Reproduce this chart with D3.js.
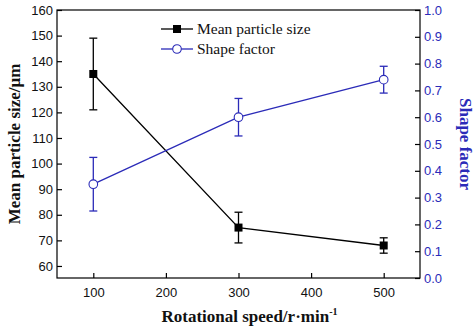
<!DOCTYPE html>
<html>
<head>
<meta charset="utf-8">
<script src="https://cdn.jsdelivr.net/npm/d3@7"></script>
<style>
  body { margin: 0; background: #fff; }
  svg { display: block; }
</style>
</head>
<body>
<svg id="chart"></svg>
<script>
// Data
const speeds = [100, 300, 500];
const sizeMean = [135, 75, 68];
const sizeErr = [14, 6, 3];
const shapeMean = [0.35, 0.60, 0.74];
const shapeErr = [0.10, 0.07, 0.05];
const xTicks = [100, 200, 300, 400, 500];
const leftTicks = [60, 70, 80, 90, 100, 110, 120, 130, 140, 150, 160];
const rightTicks = [0, 0.1, 0.2, 0.3, 0.4, 0.5, 0.6, 0.7, 0.8, 0.9, 1.0];

const width = 474;
const height = 330;
const margin = { top: 10, right: 54, bottom: 52, left: 57 };
const blue = "#2b2bb8";

const svg = d3.select("#chart").attr("width", width).attr("height", height);

const x = d3.scaleLinear().domain([50, 550]).range([margin.left, width - margin.right]);
const yL = d3.scaleLinear().domain([55.3, 160]).range([height - margin.bottom, margin.top]);
const yR = d3.scaleLinear().domain([0, 1]).range([height - margin.bottom, margin.top]);

// Frame
svg.append("rect")
  .attr("x", margin.left).attr("y", margin.top)
  .attr("width", width - margin.left - margin.right)
  .attr("height", height - margin.top - margin.bottom)
  .attr("fill", "none").attr("stroke", "#000").attr("stroke-width", 1.2);

// Axes (ticks pointing inward)
const tickFont = "'Liberation Sans', Arial, sans-serif";

const gx = svg.append("g")
  .attr("transform", `translate(0,${height - margin.bottom})`)
  .call(d3.axisBottom(x).tickValues(xTicks).tickSize(-5).tickPadding(10).tickFormat(d3.format("d")));

const gl = svg.append("g")
  .attr("transform", `translate(${margin.left},0)`)
  .call(d3.axisLeft(yL).tickValues(leftTicks).tickSize(-5).tickPadding(4).tickFormat(d3.format("d")));

const gr = svg.append("g")
  .attr("transform", `translate(${width - margin.right},0)`)
  .call(d3.axisRight(yR).tickValues(rightTicks).tickSize(-5).tickPadding(4).tickFormat(d3.format(".1f")));

[gx, gl, gr].forEach(g => {
  g.select(".domain").remove();
  g.selectAll("text").attr("font-family", tickFont).attr("font-size", 13);
  g.selectAll("line").attr("stroke", "#000").attr("stroke-width", 1.2);
});
gx.selectAll("text").attr("fill", "#111");
gl.selectAll("text").attr("fill", "#111");
gr.selectAll("text").attr("fill", blue);

// Axis titles
const titleFont = "'Liberation Serif', 'Times New Roman', serif";

const xTitle = svg.append("text")
  .attr("x", (margin.left + width - margin.right) / 2 + 11)
  .attr("y", 322)
  .attr("text-anchor", "middle")
  .attr("font-family", titleFont).attr("font-weight", "bold").attr("font-size", 17)
  .attr("fill", "#111");
xTitle.append("tspan").text("Rotational speed/r·min");
xTitle.append("tspan").attr("dy", -7).attr("font-size", 10).text("-1");

svg.append("text")
  .attr("transform", `translate(20,${(margin.top + height - margin.bottom) / 2}) rotate(-90)`)
  .attr("text-anchor", "middle")
  .attr("font-family", titleFont).attr("font-weight", "bold").attr("font-size", 17)
  .attr("fill", "#111")
  .text("Mean particle size/μm");

svg.append("text")
  .attr("transform", `translate(460,${(margin.top + height - margin.bottom) / 2}) rotate(90)`)
  .attr("text-anchor", "middle")
  .attr("font-family", titleFont).attr("font-weight", "bold").attr("font-size", 17)
  .attr("fill", blue)
  .text("Shape factor");

// Series
function drawSeries(mean, err, yScale, color, marker) {
  const pts = speeds.map((s, i) => ({ s, m: mean[i], e: err[i] }));
  svg.append("path")
    .datum(pts)
    .attr("fill", "none").attr("stroke", color).attr("stroke-width", 1.3)
    .attr("d", d3.line().x(d => x(d.s)).y(d => yScale(d.m)));

  const eb = svg.append("g").selectAll("g").data(pts).join("g")
    .attr("stroke", color).attr("stroke-width", 1.3);
  eb.append("line")
    .attr("x1", d => x(d.s)).attr("x2", d => x(d.s))
    .attr("y1", d => yScale(d.m - d.e)).attr("y2", d => yScale(d.m + d.e));
  eb.append("line")
    .attr("x1", d => x(d.s) - 4).attr("x2", d => x(d.s) + 4)
    .attr("y1", d => yScale(d.m + d.e)).attr("y2", d => yScale(d.m + d.e));
  eb.append("line")
    .attr("x1", d => x(d.s) - 4).attr("x2", d => x(d.s) + 4)
    .attr("y1", d => yScale(d.m - d.e)).attr("y2", d => yScale(d.m - d.e));

  const mk = svg.append("g").selectAll("g").data(pts).join("g");
  if (marker === "square") {
    mk.append("rect")
      .attr("x", d => x(d.s) - 4).attr("y", d => yScale(d.m) - 4)
      .attr("width", 8).attr("height", 8).attr("fill", "#000");
  } else {
    mk.append("circle")
      .attr("cx", d => x(d.s)).attr("cy", d => yScale(d.m))
      .attr("r", 4.3).attr("fill", "#fff").attr("stroke", color).attr("stroke-width", 1.1);
  }
}

drawSeries(sizeMean, sizeErr, yL, "#000", "square");
drawSeries(shapeMean, shapeErr, yR, blue, "circle");

// Legend
const legend = svg.append("g").attr("transform", "translate(161,29)");
const legendItems = [
  { label: "Mean particle size", color: "#000", marker: "square" },
  { label: "Shape factor", color: blue, marker: "circle" }
];
legendItems.forEach((it, i) => {
  const g = legend.append("g").attr("transform", `translate(0,${i * 20})`);
  g.append("line").attr("x1", 0).attr("x2", 32).attr("y1", 0).attr("y2", 0)
    .attr("stroke", it.color).attr("stroke-width", 1.3);
  if (it.marker === "square") {
    g.append("rect").attr("x", 12).attr("y", -4).attr("width", 8).attr("height", 8).attr("fill", "#000");
  } else {
    g.append("circle").attr("cx", 16).attr("cy", 0).attr("r", 4.3)
      .attr("fill", "#fff").attr("stroke", it.color).attr("stroke-width", 1.1);
  }
  g.append("text").attr("x", 36).attr("y", 5)
    .attr("font-family", titleFont).attr("font-size", 15.5).attr("fill", "#111")
    .text(it.label);
});
</script>
</body>
</html>
